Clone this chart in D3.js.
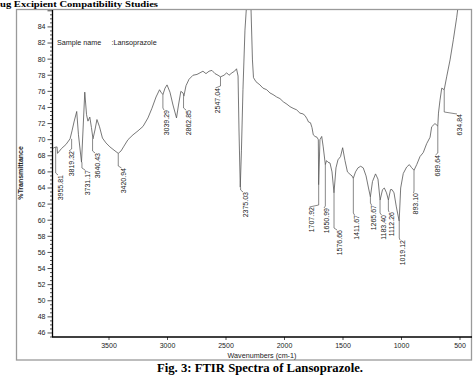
<!DOCTYPE html>
<html><head><meta charset="utf-8">
<script src="https://cdn.jsdelivr.net/npm/d3@7/dist/d3.min.js"></script>
<style>html,body{margin:0;padding:0;background:#fff;}svg{display:block;}</style>
</head><body>
<script>
// ---- data ----
const wavenumber = [3983,3962,3944,3940,3906,3868,3833,3816,3799,3776,3761,3735,3722,3707,3692,3680,3664,3650,3637,3620,3603,3581,3556,3526,3492,3457,3421,3397,3372,3338,3295,3252,3209,3167,3133,3098,3068,3056,3039,3021,3004,2979,2953,2923,2906,2886,2867,2860,2842,2816,2782,2748,2722,2697,2671,2645,2620,2594,2568,2547,2517,2494,2474,2449,2427,2410,2397,2389,2378,2368,2355,2338,2321,2303,2286,2274,2265,2244,2210,2184,2152,2124,2098,2067,2039,2010,1979,1953,1927,1896,1868,1842,1825,1808,1795,1778,1765,1754,1739,1722,1711,1708,1697,1682,1669,1651,1641,1628,1611,1594,1577,1560,1543,1521,1503,1483,1462,1440,1423,1412,1393,1372,1349,1327,1303,1282,1266,1248,1222,1201,1183,1162,1147,1128,1112,1094,1081,1064,1044,1020,1007,985,956,933,915,893,870,842,814,785,756,742,714,690,684,671,656,635,614,585,557,528,509];
const transmittance = [68.9,69.05,69.1,68.3,68.9,69.4,70.1,71.1,72.2,73.5,70.6,67.2,71.2,75.9,73.1,72.3,72.8,71.5,70.1,71.2,72.5,71.6,70.2,69.6,69.1,68.7,68.3,68.6,69.2,70.0,70.6,71.1,71.65,72.7,73.9,75.3,76.2,75.9,75.6,76.4,76.8,75.9,74.3,72.7,74.3,76.0,75.8,75.4,76.7,77.5,78.0,78.1,78.3,78.5,78.2,78.5,78.6,78.2,78.0,77.8,78.0,78.3,78.0,78.3,78.5,78.8,77.9,71.2,64.1,68.7,76.2,83.6,87.4,88.6,86.1,79.9,77.7,77.2,76.8,76.4,76.2,75.8,75.6,75.3,75.1,74.7,74.4,74.1,73.9,73.7,73.3,73.2,73.0,72.6,72.2,72.1,71.5,70.6,70.4,70.3,70.0,64.4,70.0,70.4,69.1,66.9,67.4,67.2,67.1,66.0,63.4,66.5,67.5,67.9,69.0,67.4,66.0,65.7,65.5,65.2,66.0,66.5,66.7,66.5,65.5,64.0,62.9,64.8,65.75,65.1,62.5,63.8,64.0,63.4,62.5,63.8,63.8,63.4,61.65,59.9,64.0,65.8,66.6,66.9,66.55,66.2,66.9,67.9,68.4,69.5,70.3,71.6,72.0,71.7,73.3,74.9,76.4,76.2,77.8,79.9,82.4,85.2,87.4];
const peakLabels = ["3955.81","3819.32","3731.17","3640.43","3420.94","3039.29","2862.85","2547.04","2375.03","1707.92","1650.99","1576.66","1411.67","1265.67","1183.40","1112.26","1019.12","893.10","689.64","634.84"];
const peakWn = peakLabels.map(Number);
const yTicks = d3.range(46, 85, 2);
const xTicks = [3500, 3000, 2500, 2000, 1500, 1000, 500];

// ---- layout (pixels, not data) ----
const labelCx = [60,71,87,97,123.5,166,188,217.5,245,311.5,326,339,356.5,373.5,383.5,391,402,415.5,437.5,459];
const labelTop = [175,151,170,153,168,110,110,88,192,207,208,230,215,205,215,212,240,193,155,114];

const W = 474, H = 375;
const svg = d3.select("body").append("svg").attr("width", W).attr("height", H);
const x = d3.scaleLinear().domain([4000, 400]).range([50.5, 471.7]);
const y = d3.scaleLinear().domain([45.5, 86.1]).range([337, 10]);
const sans = "'Liberation Sans', Arial, sans-serif";
const serif = "'Liberation Serif', 'Times New Roman', serif";

// header and caption
svg.append("text").attr("x", 0).attr("y", 7).attr("font-family", serif).attr("font-weight", "bold")
  .attr("font-size", 9).attr("textLength", 158).attr("lengthAdjust", "spacingAndGlyphs")
  .text("ug Excipient Compatibility Studies");
svg.append("text").attr("x", 260).attr("y", 372).attr("text-anchor", "middle").attr("font-family", serif)
  .attr("font-weight", "bold").attr("font-size", 12.5).attr("textLength", 206).attr("lengthAdjust", "spacingAndGlyphs")
  .text("Fig. 3: FTIR Spectra of Lansoprazole.");

// outer frame
svg.append("rect").attr("x", 16.5).attr("y", 9.5).attr("width", 455).attr("height", 350.5)
  .attr("fill", "none").attr("stroke", "#9a9a9a").attr("stroke-width", 1.3);

// y axis
const yAxis = svg.append("g").attr("transform", "translate(52.5,0)");
yAxis.append("line").attr("y1", 10).attr("y2", 337).attr("stroke", "#000").attr("stroke-width", 1.3);
yAxis.selectAll("line.minor").data(d3.range(45.5, 86.01, 0.5)).join("line").attr("class", "minor")
  .attr("x1", d => (Math.abs(d % 2) < 1e-6) ? -5 : -2.5).attr("x2", 0)
  .attr("y1", d => y(d)).attr("y2", d => y(d)).attr("stroke", "#000").attr("stroke-width", 0.7);
yAxis.selectAll("text").data(yTicks).join("text")
  .attr("x", -7).attr("y", d => y(d)).attr("dy", "0.35em").attr("text-anchor", "end")
  .attr("font-family", sans).attr("font-size", 7).attr("fill", "#222").text(d => d);

// x axis
const xAxis = svg.append("g").attr("transform", "translate(0,337)");
xAxis.append("line").attr("x1", 52).attr("x2", 472).attr("stroke", "#000").attr("stroke-width", 1.6);
xAxis.selectAll("line.t").data(xTicks).join("line").attr("class", "t")
  .attr("x1", d => x(d)).attr("x2", d => x(d)).attr("y1", 0).attr("y2", 3).attr("stroke", "#000").attr("stroke-width", 0.7);
xAxis.selectAll("text").data(xTicks).join("text")
  .attr("x", d => x(d)).attr("y", 11).attr("text-anchor", "middle")
  .attr("font-family", sans).attr("font-size", 7).attr("fill", "#222").text(d => d);

// axis titles
svg.append("text").attr("transform", "translate(23,173) rotate(-90)").attr("text-anchor", "middle")
  .attr("font-family", sans).attr("font-size", 7).attr("font-weight", "bold").attr("fill", "#222").text("%Transmittance");
svg.append("text").attr("x", 262).attr("y", 358).attr("text-anchor", "middle")
  .attr("font-family", sans).attr("font-size", 7.2).attr("fill", "#222").text("Wavenumbers (cm-1)");

// sample name
svg.append("text").attr("x", 57).attr("y", 45).attr("font-family", sans).attr("font-size", 7.2).attr("fill", "#222").text("Sample name");
svg.append("text").attr("x", 111.5).attr("y", 45).attr("font-family", sans).attr("font-size", 7.2).attr("fill", "#222").text(":Lansoprazole");

// spectrum
svg.append("clipPath").attr("id", "plotclip").append("rect").attr("x", 53).attr("y", 10).attr("width", 419).attr("height", 327);
const pts = wavenumber.map((w, i) => [w, transmittance[i]]);
svg.append("path").datum(pts).attr("clip-path", "url(#plotclip)")
  .attr("fill", "none").attr("stroke", "#555").attr("stroke-width", 0.8)
  .attr("d", d3.line().x(d => x(d[0])).y(d => y(d[1])));

function curveT(w) {
  for (let i = 0; i < wavenumber.length - 1; i++) {
    const a = wavenumber[i], b = wavenumber[i + 1];
    if (w <= a && w >= b) { const t = (a - w) / (a - b); return transmittance[i] + t * (transmittance[i + 1] - transmittance[i]); }
  }
  return transmittance[transmittance.length - 1];
}
function minNear(w) {
  let best = curveT(w);
  wavenumber.forEach((v, i) => { if (Math.abs(v - w) <= 14) best = Math.min(best, transmittance[i]); });
  return best;
}

const lg = svg.append("g");
peakWn.forEach((w, i) => {
  const xl = x(w), yc = y(minNear(w)), top = labelTop[i], cx = labelCx[i];
  lg.append("path").attr("fill", "none").attr("stroke", "#555").attr("stroke-width", 0.7)
    .attr("d", `M${xl},${yc} L${xl},${top - 2} L${cx - 2},${top}`);
  lg.append("text").attr("transform", `translate(${cx + 2.5},${top}) rotate(-90)`).attr("text-anchor", "end")
    .attr("font-family", sans).attr("font-size", 7).attr("fill", "#222").text(peakLabels[i]);
});
</script>
</body></html>
